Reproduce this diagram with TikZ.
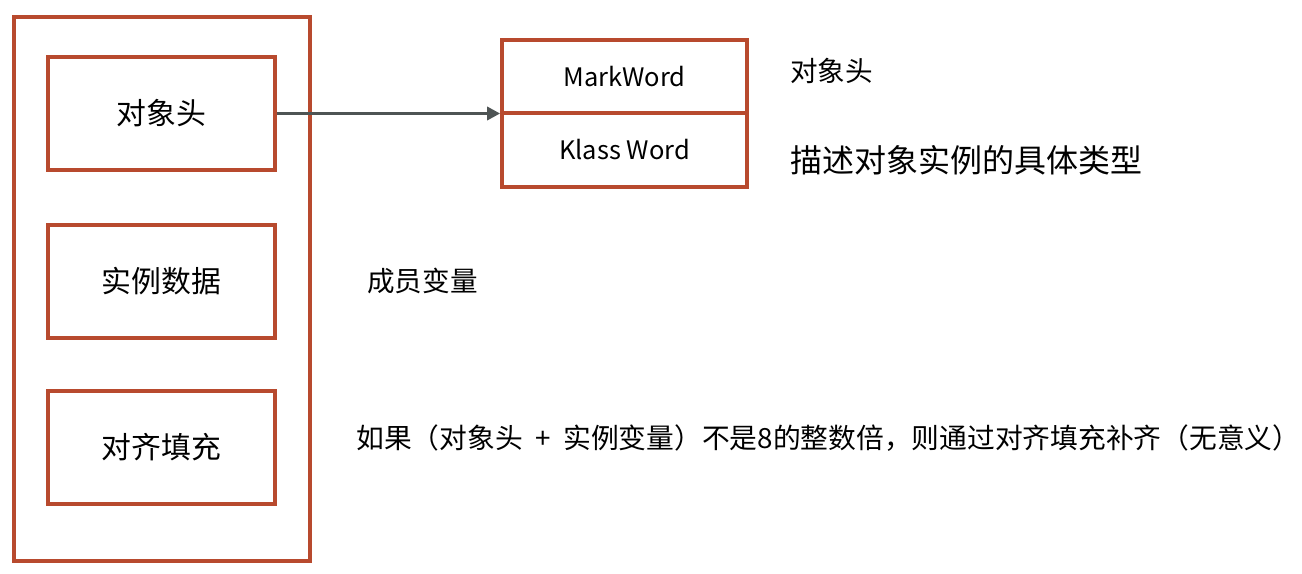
\documentclass[tikz,border=0pt]{standalone}
\usepackage{fontspec}
\setmainfont{Noto Sans CJK SC}
\usepackage{tikz}
\usetikzlibrary{arrows.meta, positioning}
\definecolor{objred}{RGB}{184,74,46}
\definecolor{objgray}{RGB}{78,84,84}

\begin{document}
\begin{tikzpicture}[
  x=0.02cm, y=-0.02cm,
  every node/.style={font=\fontsize{15.7pt}{18pt}\selectfont},
  part/.style={draw=objred, line width=2.1pt,
               minimum width=4.54cm, minimum height=2.26cm,
               font=\fontsize{17pt}{20pt}\selectfont},
  word/.style={draw=objred, line width=2.1pt,
               minimum width=4.9cm, minimum height=1.47cm,
               font=\fontsize{14.5pt}{17pt}\selectfont},
  note/.style={anchor=west, inner sep=0pt},
  arrow/.style={-{Triangle[length=7.5pt,width=7.5pt]}, objgray, line width=2.1pt}
]
\useasboundingbox (0,0) rectangle (1302,574);

%% Object layout
\node[draw=objred, line width=2.1pt, minimum width=5.92cm,
      minimum height=10.88cm] (obj) at (162,289) {};

\node[part] (hdr)  at (161.5,113.5) {对象头};
\node[part] (inst) at (161.5,281.5) {实例数据};
\node[part] (pad)  at (161.5,447.5) {对齐填充};

%% Header words
\node[word] (mark)  at (624.5,76.5) {MarkWord};
\node[word] (klass) at (624.5,150)  {Klass Word};

\draw[arrow] (hdr.east) -- (hdr.east -| mark.west);

%% Notes
\node[note] (marknote) at (790,71) {对象头};
\node[note, font=\fontsize{18.2pt}{21pt}\selectfont] (klassnote) at (790,160)
  {描述对象实例的具体类型};
\node[note] (instnote) at (367,281) {成员变量};
\node[note, font=\fontsize{15.8pt}{19pt}\selectfont] (padnote) at (356,438)
  {如果（对象头\hspace{0.45em}+\hspace{0.45em}实例变量）不是8的整数倍，则通过对齐填充补齐（无意义）};

\end{tikzpicture}
\end{document}
